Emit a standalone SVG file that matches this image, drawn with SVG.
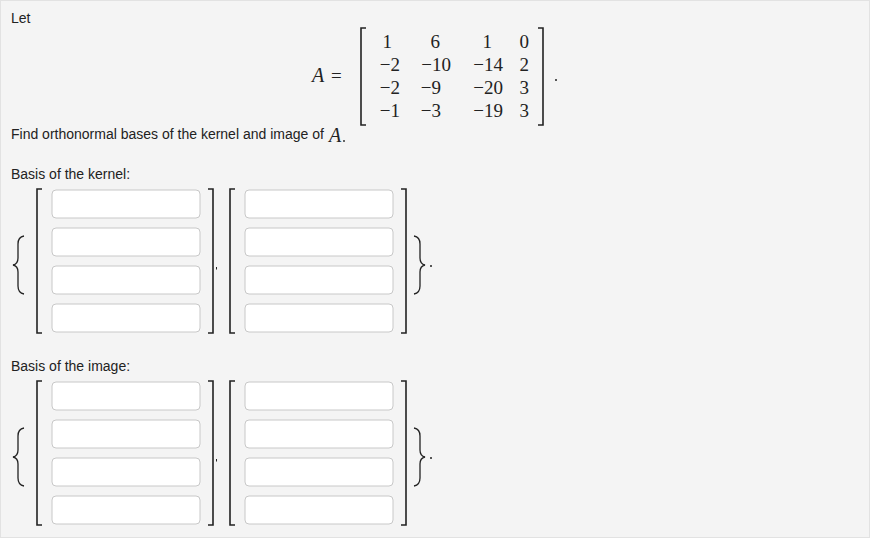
<svg xmlns="http://www.w3.org/2000/svg" width="870" height="538" viewBox="0 0 870 538">
<defs>
<style>
.t{font-family:"Liberation Sans",Arial,sans-serif;font-size:14px;fill:#222}
.m{font-family:"Liberation Serif","Times New Roman",serif;font-size:19px;fill:#222}
.mi{font-family:"Liberation Serif","Times New Roman",serif;font-size:20px;font-style:italic;fill:#222}
.b{fill:none;stroke:#222;stroke-width:1.6}
.box{fill:#fff;stroke:#c8c8c8;stroke-width:1}
.br{fill:none;stroke:#222;stroke-width:1.3}
</style>
<g id="col">
<rect class="box" x="52" y="190" width="148" height="28" rx="4"/>
<rect class="box" x="52" y="228" width="148" height="28" rx="4"/>
<rect class="box" x="52" y="266" width="148" height="28" rx="4"/>
<rect class="box" x="52" y="304" width="148" height="28" rx="4"/>
<path class="b" d="M42,189 H37 V333 H42"/>
<path class="b" d="M208,189 H213 V333 H208"/>
</g>
<g id="set">
<use href="#col"/>
<use href="#col" x="193"/>
<path class="br" d="M24,236 Q18,237 18,244 V258 Q18,264 13,265 Q18,266 18,272 V286 Q18,293 24,294"/>
<path class="br" d="M414,236 Q420,237 420,244 V258 Q420,264 425,265 Q420,266 420,272 V286 Q420,293 414,294"/>
<path d="M216.5,267 v2.5" stroke="#222" stroke-width="1"/>
<circle cx="431" cy="266" r="1" fill="#222"/>
</g>
</defs>
<rect x="0.5" y="0.5" width="869" height="537" fill="#f4f4f4" stroke="#e2e2e2"/>
<text class="t" x="11" y="23">Let</text>
<text class="mi" x="312" y="82">A</text>
<text class="m" x="331" y="82">=</text>
<path class="b" d="M366,28 H361 V125 H366"/>
<path class="b" d="M538,28 H543 V125 H538"/>
<g class="m" text-anchor="end">
<text x="392" y="48">1</text><text x="440" y="48">6</text><text x="492" y="48">1</text><text x="529" y="48">0</text>
<text x="400" y="71">−2</text><text x="451" y="71">−10</text><text x="503" y="71">−14</text><text x="529" y="71">2</text>
<text x="400" y="94">−2</text><text x="441" y="94">−9</text><text x="503" y="94">−20</text><text x="529" y="94">3</text>
<text x="400" y="117">−1</text><text x="441" y="117">−3</text><text x="503" y="117">−19</text><text x="529" y="117">3</text>
</g>
<circle cx="556" cy="80" r="1" fill="#222"/>
<text class="t" x="11" y="139">Find orthonormal bases of the kernel and image of </text>
<text class="mi" x="329" y="142">A</text>
<circle cx="344" cy="141" r="0.9" fill="#222"/>
<text class="t" x="11" y="179">Basis of the kernel:</text>
<use href="#set"/>
<text class="t" x="11" y="371">Basis of the image:</text>
<use href="#set" y="192"/>
</svg>
